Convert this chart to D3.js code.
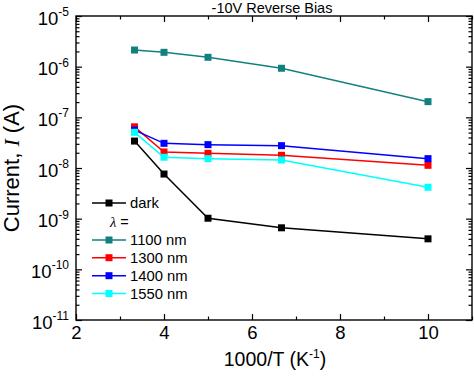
<!DOCTYPE html>
<html><head><meta charset="utf-8">
<script src="https://cdn.jsdelivr.net/npm/d3@7"></script>
<style>
body{margin:0;background:#fff;}
svg{display:block;font-family:"Liberation Sans",Arial,sans-serif;}
</style></head>
<body>
<svg id="chart" width="474" height="378"></svg>
<script>
// ---- data ----
const xValues = [3.33, 4, 5, 6.67, 10];
const dark   = [3.4e-8, 7.6e-9, 1.02e-9, 6.6e-10, 4.0e-10];
const s1100  = [2.13e-6, 1.92e-6, 1.53e-6, 9.3e-7, 2.04e-7];
const s1300  = [6.5e-8, 2.07e-8, 1.95e-8, 1.78e-8, 1.13e-8];
const s1400  = [5.6e-8, 3.07e-8, 2.89e-8, 2.76e-8, 1.53e-8];
const s1550  = [5.06e-8, 1.63e-8, 1.53e-8, 1.44e-8, 4.16e-9];
const seriesNames = ["dark", "1100 nm", "1300 nm", "1400 nm", "1550 nm"];
const seriesColors = ["#000000", "#138080", "#ff0000", "#0000ff", "#00ffff"];
const xTickValues = [2, 4, 6, 8, 10];
const xMinorTicks = [3, 5, 7, 9, 11];
const yDecades = [-11, -10, -9, -8, -7, -6, -5];
const titleText = "-10V Reverse Bias";

const series = [dark, s1100, s1300, s1400, s1550];

const svg = d3.select("#chart");
const L = 76, R = 472, T = 16, B = 320;
const x = d3.scaleLinear().domain([2, 11]).range([L, R]);
const y = d3.scaleLog().domain([1e-11, 1e-5]).range([B, T]);

// minor y ticks
const yMinor = [];
for (let e = -11; e < -5; e++) for (let m = 2; m <= 9; m++) yMinor.push(m * Math.pow(10, e));
const yMajor = yDecades.map(e => Math.pow(10, e));

function styleAxis(g){
  g.select(".domain").remove();
  g.selectAll("line").attr("stroke", "#000").attr("stroke-width", 1.2);
}
// bottom
svg.append("g").attr("transform", `translate(0,${B})`)
  .call(d3.axisBottom(x).tickValues(xTickValues).tickSize(-6).tickPadding(6).tickFormat(d3.format("d")))
  .call(styleAxis)
  .call(g => g.selectAll("text").attr("font-size", 18.5).attr("fill", "#000").attr("font-family", "Liberation Sans, Arial, sans-serif"));
svg.append("g").attr("transform", `translate(0,${B})`)
  .call(d3.axisBottom(x).tickValues(xMinorTicks).tickSize(-3.5).tickFormat(""))
  .call(styleAxis);
// top
svg.append("g").attr("transform", `translate(0,${T})`)
  .call(d3.axisTop(x).tickValues(xTickValues).tickSize(-6).tickFormat(""))
  .call(styleAxis);
svg.append("g").attr("transform", `translate(0,${T})`)
  .call(d3.axisTop(x).tickValues(xMinorTicks).tickSize(-3.5).tickFormat(""))
  .call(styleAxis);
// left
svg.append("g").attr("transform", `translate(${L},0)`)
  .call(d3.axisLeft(y).tickValues(yMajor).tickSize(-6).tickFormat(""))
  .call(styleAxis);
svg.append("g").attr("transform", `translate(${L},0)`)
  .call(d3.axisLeft(y).tickValues(yMinor).tickSize(-3.5).tickFormat(""))
  .call(styleAxis);
// right
svg.append("g").attr("transform", `translate(${R},0)`)
  .call(d3.axisRight(y).tickValues(yMajor).tickSize(-6).tickFormat(""))
  .call(styleAxis);
svg.append("g").attr("transform", `translate(${R},0)`)
  .call(d3.axisRight(y).tickValues(yMinor).tickSize(-3.5).tickFormat(""))
  .call(styleAxis);

// y tick labels
const yl = svg.append("g").selectAll("text").data(yDecades).join("text")
  .attr("x", 69).attr("y", d => y(Math.pow(10, d)) + 8.5)
  .attr("text-anchor", "end").attr("font-size", 18.5).attr("fill", "#000");
yl.append("tspan").text("10");
yl.append("tspan").attr("font-size", 12).attr("dy", -8.5).text(d => "-" + Math.abs(d));

// frame
svg.append("rect").attr("x", L).attr("y", T).attr("width", R - L).attr("height", B - T)
  .attr("fill", "none").attr("stroke", "#000").attr("stroke-width", 1.4);

// series
const line = d3.line().x((d, i) => x(xValues[i])).y(d => y(d));
series.forEach((s, k) => {
  const g = svg.append("g");
  g.append("path").datum(s).attr("d", line).attr("fill", "none")
    .attr("stroke", seriesColors[k]).attr("stroke-width", 1.5);
  g.selectAll("rect").data(s).join("rect")
    .attr("x", (d, i) => x(xValues[i]) - 3.5).attr("y", d => y(d) - 3.5)
    .attr("width", 7).attr("height", 7).attr("fill", seriesColors[k]);
});

// legend
const legRows = [203, 240, 257.7, 275.7, 293.5];
const lg = svg.append("g");
seriesNames.forEach((name, k) => {
  const yy = legRows[k];
  lg.append("line").attr("x1", 92).attr("x2", 126).attr("y1", yy).attr("y2", yy)
    .attr("stroke", seriesColors[k]).attr("stroke-width", 1.5);
  lg.append("rect").attr("x", 109 - 3.5).attr("y", yy - 3.5).attr("width", 7).attr("height", 7)
    .attr("fill", seriesColors[k]);
  lg.append("text").attr("x", 130).attr("y", yy + 5.3).attr("font-size", 14.8).attr("fill", "#000").text(name);
});
const lam = lg.append("text").attr("x", 110).attr("y", 226.5).attr("font-size", 14.5).attr("fill", "#000");
lam.append("tspan").attr("font-family", "Liberation Serif, serif").attr("font-style", "italic").text("λ");
lam.append("tspan").text(" =");

// title
svg.append("text").attr("x", 272).attr("y", 12.5).attr("text-anchor", "middle")
  .attr("font-size", 14.5).attr("fill", "#000").text(titleText);

// x title
const xt = svg.append("text").attr("x", 275).attr("y", 366).attr("text-anchor", "middle")
  .attr("font-size", 19.5).attr("fill", "#000");
xt.append("tspan").text("1000/T (K");
xt.append("tspan").attr("font-size", 12).attr("dy", -8).text("-1");
xt.append("tspan").attr("dy", 8).text(")");

// y title
const ytl = svg.append("text").attr("transform", "translate(18.5,168) rotate(-90)")
  .attr("text-anchor", "middle").attr("font-size", 22).attr("fill", "#000");
ytl.append("tspan").text("Current, ");
ytl.append("tspan").attr("font-family", "Liberation Serif, serif").attr("font-style", "italic").text("I");
ytl.append("tspan").text(" (A)");
</script>
</body></html>
